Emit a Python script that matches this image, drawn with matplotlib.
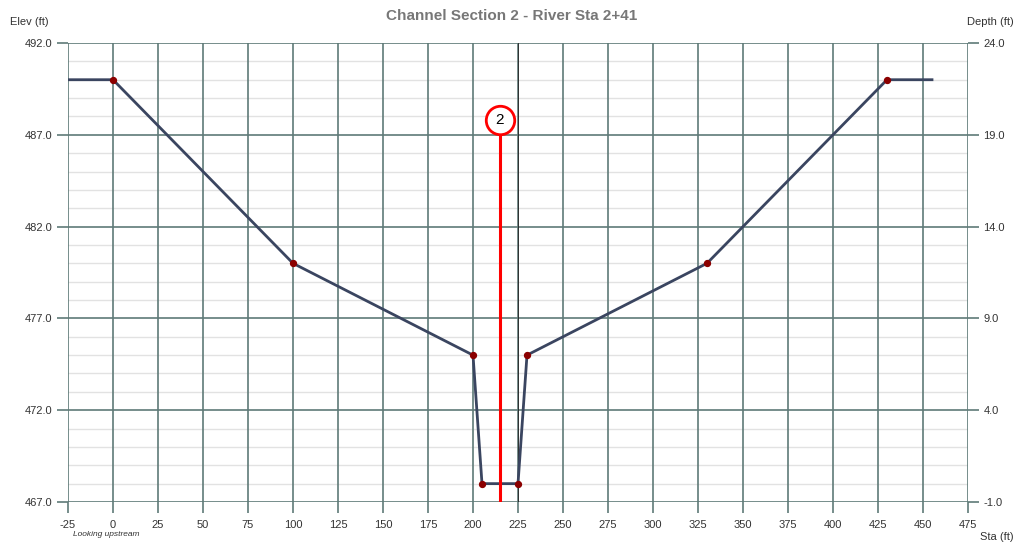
import matplotlib
matplotlib.use("Agg")
import matplotlib.pyplot as plt
import numpy as np

plt.rcParams['font.family'] = ['Liberation Sans', 'DejaVu Sans']

sta = [-25, 0, 100, 200, 205, 225, 230, 330, 430, 455]
elev = [490, 490, 480, 475, 468, 468, 475, 480, 490, 490]
pts_sta = [0, 100, 200, 205, 225, 230, 330, 430]
pts_elev = [490, 480, 475, 468, 468, 475, 480, 490]
xticks = list(range(-25, 476, 25))
yticks = [467, 472, 477, 482, 487, 492]
depth_ticks = [-1, 4, 9, 14, 19, 24]
marker_sta = 215
marker_label = "2"
ref_sta = 225

grid_c = "#5f7a78"
fig = plt.figure(figsize=(10.24, 5.55), dpi=100)
ax = fig.add_axes([68/1024, 1 - 502/555, 900/1024, 459/555])
ax.set_xlim(-25, 475)
ax.set_ylim(467, 492)

for y in np.arange(467, 493, 1):
    if y not in yticks:
        ax.axhline(y, color="#e2e2e2", lw=1, zorder=0)
for y in yticks:
    ax.axhline(y, color=grid_c, lw=1.2, zorder=1)
for x in xticks:
    ax.axvline(x, color=grid_c, lw=1.2, zorder=1)

ax.axvline(ref_sta, color="#222", lw=0.6, zorder=2)
ax.plot(sta, elev, color="#3a4560", lw=2, zorder=3)
ax.scatter(pts_sta, pts_elev, color="#8b0000", s=18, zorder=4)

ax.plot([marker_sta, marker_sta], [467, 487.8], color="red", lw=2.2, zorder=5)
ax.scatter([marker_sta], [487.8], s=420, facecolor="white", edgecolor="red", linewidth=2, zorder=6)
ax.text(marker_sta, 487.8, marker_label, ha="center", va="center", fontsize=11, zorder=7)

for s in ax.spines.values():
    s.set_visible(False)
ax.set_xticks(xticks)
ax.set_xticklabels([str(x) for x in xticks], fontsize=8, color="#333")
ax.set_yticks(yticks)
ax.set_yticklabels([f"{y:.1f}" for y in yticks], fontsize=8, color="#333")
ax.tick_params(axis="x", length=8, color=grid_c, width=1.2, pad=5)
ax.tick_params(axis="y", length=8, color=grid_c, width=1.2, pad=3)

ax2 = ax.twinx()
ax2.set_ylim(-1, 24)
ax2.set_yticks(depth_ticks)
ax2.set_yticklabels([f"{d:.1f}" for d in depth_ticks], fontsize=8, color="#333")
ax2.tick_params(length=8, color=grid_c, width=1.2, pad=3)
for s in ax2.spines.values():
    s.set_visible(False)

fig.text(0.5, 1 - 16/555, "Channel Section 2 - River Sta 2+41", ha="center", va="center",
         fontsize=11, fontweight="bold", color="#777")
fig.text(10/1024, 1 - 22/555, "Elev (ft)", fontsize=8, va="center", color="#333")
fig.text(1014/1024, 1 - 22/555, "Depth (ft)", fontsize=8, va="center", ha="right", color="#333")
fig.text(1014/1024, 1 - 537/555, "Sta (ft)", fontsize=8, va="center", ha="right", color="#333")
fig.text(73/1024, 1 - 534/555, "Looking upstream", fontsize=6, style="italic", va="center", color="#333")

fig.savefig("out.png", dpi=100)
